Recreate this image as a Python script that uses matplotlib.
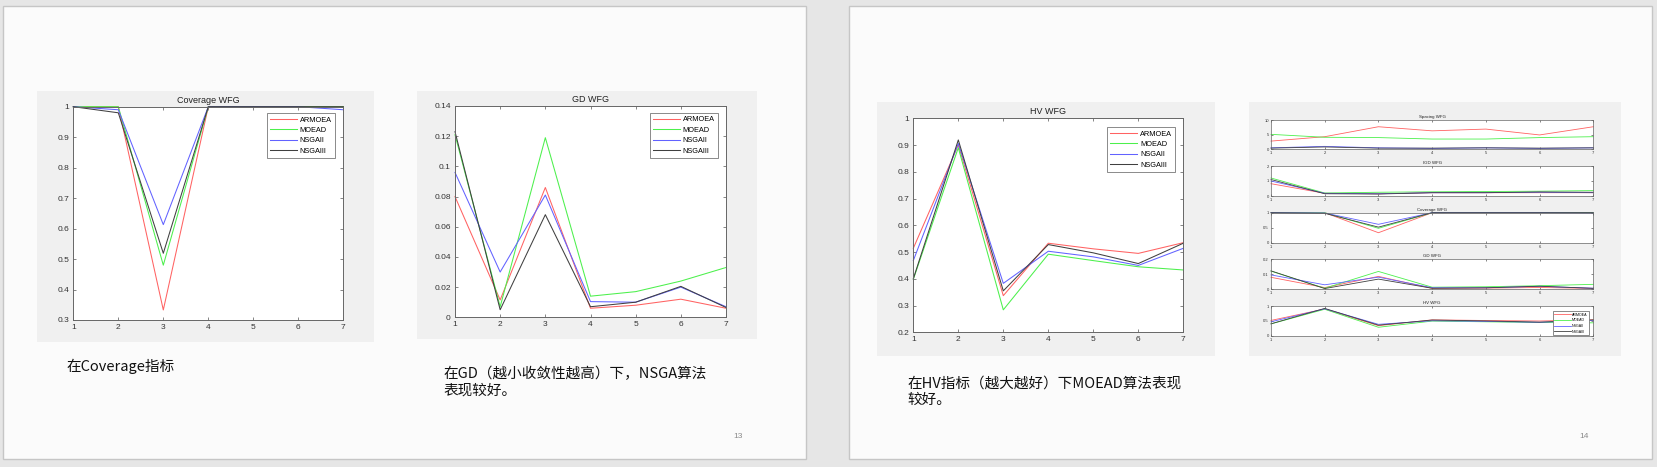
import matplotlib
matplotlib.use("Agg")
import matplotlib.pyplot as plt
from matplotlib.patches import Rectangle

# ---------------- data ----------------
runs = [1, 2, 3, 4, 5, 6, 7]
algorithms = ["ARMOEA", "MOEAD", "NSGAII", "NSGAIII"]

cov_armoea = [1.0, 1.0, 0.333, 1.0, 1.0, 1.0, 1.0]
cov_moead = [1.0, 1.0, 0.48, 1.0, 1.0, 1.0, 1.0]
cov_nsgaii = [1.0, 0.99, 0.613, 1.0, 1.0, 1.0, 0.99]
cov_nsgaiii = [1.0, 0.98, 0.519, 1.0, 1.0, 1.0, 1.0]

gd_armoea = [0.080, 0.0115, 0.086, 0.006, 0.008, 0.012, 0.006]
gd_moead = [0.121, 0.007, 0.119, 0.014, 0.017, 0.024, 0.033]
gd_nsgaii = [0.096, 0.030, 0.081, 0.0104, 0.010, 0.020, 0.007]
gd_nsgaiii = [0.123, 0.005, 0.068, 0.007, 0.010, 0.0205, 0.0065]

hv_armoea = [0.514, 0.900, 0.337, 0.533, 0.512, 0.495, 0.535]
hv_moead = [0.398, 0.890, 0.284, 0.492, 0.468, 0.445, 0.433]
hv_nsgaii = [0.468, 0.906, 0.383, 0.503, 0.482, 0.450, 0.514]
hv_nsgaiii = [0.400, 0.919, 0.355, 0.528, 0.497, 0.457, 0.533]

sp_armoea = [2.8, 4.3, 7.7, 6.3, 6.9, 4.9, 7.7]
sp_moead = [5.1, 4.1, 4.0, 3.5, 3.5, 4.0, 4.3]
sp_nsgaii = [0.5, 1.0, 0.5, 0.3, 0.5, 0.3, 0.5]
sp_nsgaiii = [0.4, 0.8, 0.4, 0.4, 0.5, 0.4, 0.5]

igd_armoea = [0.82, 0.18, 0.15, 0.22, 0.22, 0.22, 0.22]
igd_moead = [1.20, 0.20, 0.25, 0.28, 0.30, 0.32, 0.36]
igd_nsgaii = [1.00, 0.18, 0.15, 0.22, 0.22, 0.25, 0.22]
igd_nsgaiii = [1.10, 0.15, 0.13, 0.22, 0.22, 0.27, 0.25]

cov_yticks = [0.3, 0.4, 0.5, 0.6, 0.7, 0.8, 0.9, 1]
gd_yticks = [0, 0.02, 0.04, 0.06, 0.08, 0.1, 0.12, 0.14]
hv_yticks = [0.2, 0.3, 0.4, 0.5, 0.6, 0.7, 0.8, 0.9, 1]

text_cov = "在Coverage指标"
text_gd = "在GD（越小收敛性越高）下，NSGA算法\n表现较好。"
text_hv = "在HV指标（越大越好）下MOEAD算法表现\n较好。"

# ---------------- style ----------------
colors = ["#ff6262", "#4cf04c", "#6262ff", "#404040"]
W, H = 1657, 467
CH = "Liberation Sans"
CJK = ["Noto Sans CJK SC", "DejaVu Sans"]

fig = plt.figure(figsize=(W / 100, H / 100), dpi=100, facecolor="#e6e6e6")

bg = fig.add_axes([0, 0, 1, 1])
bg.set_xlim(0, W)
bg.set_ylim(H, 0)
bg.axis("off")
for (x0, y0, w, h) in [(3, 6, 803, 453), (849, 6, 803, 453)]:
    bg.add_patch(Rectangle((x0, y0), w, h, fc="#fbfbfb", ec="#c6c6c6", lw=1))
for (x0, y0, x1, y1) in [(37, 91, 374, 342), (417, 91, 757, 339),
                         (877, 102, 1215, 356), (1249, 102, 1621, 356)]:
    bg.add_patch(Rectangle((x0, y0), x1 - x0, y1 - y0, fc="#f0f0f0", ec="none"))


def px_axes(l, t, r, b):
    return fig.add_axes([l / W, 1 - b / H, (r - l) / W, (b - t) / H])


def style(ax, yticks, ylim, title, fs, tfs, lw_axis, tlen, pad):
    ax.set_facecolor("white")
    ax.set_xlim(1, 7)
    ax.set_ylim(*ylim)
    ax.set_xticks(runs)
    ax.set_xticklabels([f"{v:g}" for v in runs], fontfamily=CH, fontsize=fs, color="#333333")
    ax.set_yticks(yticks)
    ax.set_yticklabels([f"{v:g}" for v in yticks], fontfamily=CH, fontsize=fs, color="#333333")
    ax.tick_params(direction="in", top=True, right=True, length=tlen, width=0.5,
                   color="#555555", pad=pad)
    for s in ax.spines.values():
        s.set_color("#666666")
        s.set_linewidth(lw_axis)
    ax.set_title(title, fontfamily=CH, fontsize=tfs, color="#222222", pad=pad)


def draw(ax, series, lw):
    for vals, c, name in zip(series, colors, algorithms):
        ax.plot(runs, vals, color=c, lw=lw, label=name, clip_on=False, zorder=2)


def legend(ax, anchor, fs, hl):
    lg = ax.legend(loc="upper right", bbox_to_anchor=anchor, borderaxespad=0,
                   fancybox=False, framealpha=1, edgecolor="#777777",
                   prop={"family": CH, "size": fs}, handlelength=hl,
                   labelspacing=0.45, borderpad=0.45, handletextpad=0.4)
    lg.get_frame().set_linewidth(0.6)
    return lg


# Coverage
ax = px_axes(73.3, 106.7, 343.3, 320)
draw(ax, [cov_armoea, cov_moead, cov_nsgaii, cov_nsgaiii], 0.75)
style(ax, cov_yticks, (0.3, 1), "Coverage WFG", 6, 6.5, 0.7, 2, 3)
legend(ax, (0.969, 0.970), 5.3, 3.6)

# GD
ax = px_axes(455, 106, 726, 317.3)
draw(ax, [gd_armoea, gd_moead, gd_nsgaii, gd_nsgaiii], 0.75)
style(ax, gd_yticks, (0, 0.14), "GD WFG", 6, 6.5, 0.7, 2, 3)
legend(ax, (0.970, 0.967), 5.3, 3.6)

# HV
ax = px_axes(913.3, 118.3, 1183.3, 332.3)
draw(ax, [hv_armoea, hv_moead, hv_nsgaii, hv_nsgaiii], 0.75)
style(ax, hv_yticks, (0.2, 1), "HV WFG", 6, 6.5, 0.7, 2, 3)
legend(ax, (0.970, 0.959), 5.3, 3.6)

# five-panel summary
panels = [
    ("Spacing WFG", [sp_armoea, sp_moead, sp_nsgaii, sp_nsgaiii], [0, 5, 10], (0, 10)),
    ("IGD WFG", [igd_armoea, igd_moead, igd_nsgaii, igd_nsgaiii], [0, 1, 2], (0, 2)),
    ("Coverage WFG", [cov_armoea, cov_moead, cov_nsgaii, cov_nsgaiii], [0, 0.5, 1], (0, 1)),
    ("GD WFG", [gd_armoea, gd_moead, gd_nsgaii, gd_nsgaiii], [0, 0.1, 0.2], (0, 0.2)),
    ("HV WFG", [hv_armoea, hv_moead, hv_nsgaii, hv_nsgaiii], [0, 0.5, 1], (0, 1)),
]
tops = [120, 166, 212.7, 259.3, 306]
bots = [149.3, 196, 242.7, 289.3, 335.7]
for (title, series, yt, yl), t, b in zip(panels, tops, bots):
    ax = px_axes(1271, t, 1593.3, b)
    draw(ax, series, 0.6)
    style(ax, yt, yl, title, 3, 3.2, 0.5, 1.2, 1.5)
    if title == "HV WFG":
        legend(ax, (0.987, 0.83), 2.6, 4.5)

# slide texts
fig.text(66 / W, 1 - 366 / H, text_cov, family=CJK, fontsize=10.5, color="#111111",
         va="center", ha="left")
fig.text(443 / W, 1 - 382 / H, text_gd, family=CJK, fontsize=10.5, color="#111111",
         va="center", ha="left", linespacing=1.2)
fig.text(907 / W, 1 - 392 / H, text_hv, family=CJK, fontsize=10.5, color="#111111",
         va="center", ha="left", linespacing=1.2)
fig.text(738 / W, 1 - 437 / H, "13", family=CH, fontsize=6, color="#8a8a8a",
         va="center", ha="center")
fig.text(1584 / W, 1 - 437 / H, "14", family=CH, fontsize=6, color="#8a8a8a",
         va="center", ha="center")

fig.savefig("out.png", dpi=100, facecolor=fig.get_facecolor())
